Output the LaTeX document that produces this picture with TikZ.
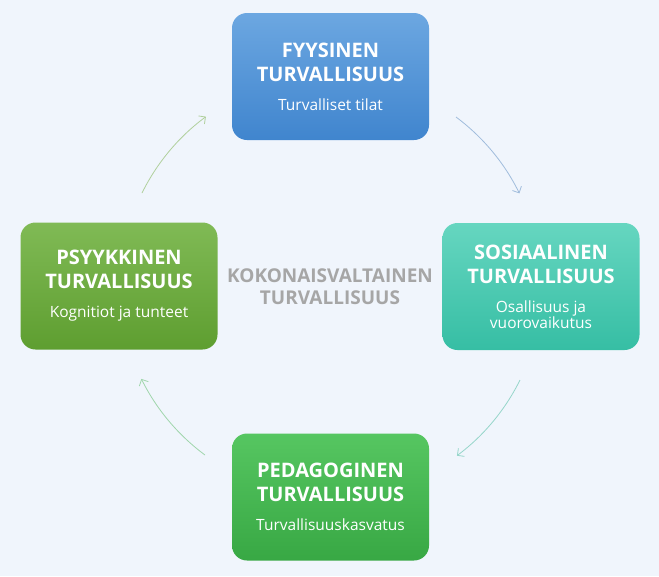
\documentclass[tikz,border=0pt]{standalone}
\usepackage{fontspec}
\setmainfont{Open Sans}
\usetikzlibrary{arrows.meta}

\definecolor{tausta}{RGB}{240,245,252}
\definecolor{harmaa}{RGB}{166,166,166}

\tikzset{
  lohko/.style={rounded corners=15pt,minimum width=197pt,minimum height=127pt,
    inner sep=0pt,text=white,align=center,font=\fontsize{20}{24}\selectfont\bfseries},
  nuoli/.style={line width=0.8pt,-{Straight Barb[length=5pt,width=10pt]}},
}

\begin{document}
\begin{tikzpicture}[x=1pt,y=-1pt]
  \fill[tausta] (0,0) rectangle (659,576);
  \useasboundingbox (0,0) rectangle (659,576);

  \node(fyys)[lohko,top color={rgb,255:red,108;green,167;blue,225},bottom color={rgb,255:red,64;green,133;blue,206}] at (330.5,76.5)
    {FYYSINEN\\TURVALLISUUS\\[5pt]\fontsize{15.5}{17}\selectfont\mdseries Turvalliset tilat};
  \node(sos)[lohko,top color={rgb,255:red,102;green,214;blue,192},bottom color={rgb,255:red,54;green,190;blue,164}] at (541,286.5)
    {SOSIAALINEN\\TURVALLISUUS\\[5pt]\fontsize{15.5}{17}\selectfont\mdseries Osallisuus ja\\[-8pt]\fontsize{15.5}{17}\selectfont\mdseries vuorovaikutus};
  \node(ped)[lohko,top color={rgb,255:red,86;green,198;blue,97},bottom color={rgb,255:red,56;green,168;blue,68}] at (330.5,497)
    {PEDAGOGINEN\\TURVALLISUUS\\[5pt]\fontsize{15.5}{17}\selectfont\mdseries Turvallisuuskasvatus};
  \node(psyk)[lohko,top color={rgb,255:red,128;green,186;blue,85},bottom color={rgb,255:red,94;green,158;blue,48}] at (119,286)
    {PSYYKKINEN\\TURVALLISUUS\\[5pt]\fontsize{15.5}{17}\selectfont\mdseries Kognitiot ja tunteet};
  \node(kok)[align=center,text=harmaa,font=\fontsize{19}{22}\selectfont\bfseries] at (330,287)
    {KOKONAISVALTAINEN\\TURVALLISUUS};

  % kaaret keskipisteen (330,286) ympari
  \coordinate(n1) at (456,117);
  \coordinate(n2) at (520,380);
  \coordinate(n3) at (205,455);
  \coordinate(n4) at (142,193);
  \draw[nuoli,color={rgb,255:red,160;green,188;blue,220}] (n1) arc[start angle=-53.3,end angle=-26.1,radius=211];
  \draw[nuoli,color={rgb,255:red,150;green,214;blue,202}] (n2) arc[start angle=26.3,end angle=53.3,radius=211];
  \draw[nuoli,color={rgb,255:red,160;green,214;blue,172}] (n3) arc[start angle=126.5,end angle=153.7,radius=211];
  \draw[nuoli,color={rgb,255:red,176;green,208;blue,156}] (n4) arc[start angle=-153.7,end angle=-126.4,radius=211];
\end{tikzpicture}
\end{document}
